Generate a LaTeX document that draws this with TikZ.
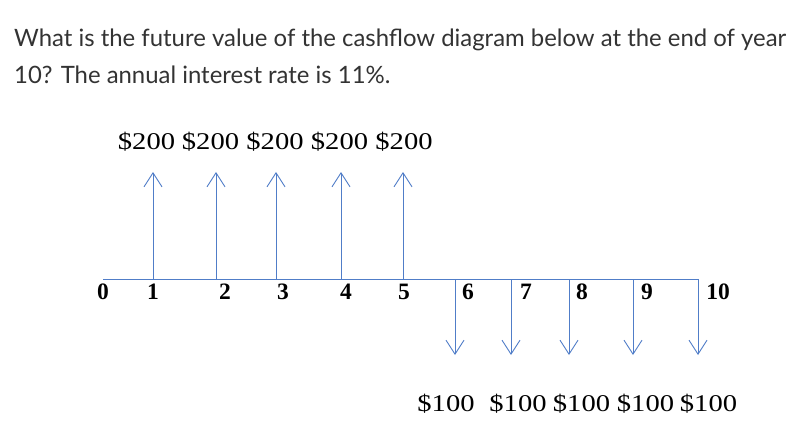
\documentclass[tikz,border=0pt]{standalone}
\usepackage{fontspec}
\setmainfont{Liberation Serif}
\newfontfamily\latofont{Lato}
\newfontfamily\cashfont[FakeStretch=1.19]{Liberation Serif}
\usepackage{xcolor}
\usetikzlibrary{arrows.meta}
\definecolor{flowblue}{RGB}{80,125,200}
\definecolor{textgray}{RGB}{51,51,51}

\begin{document}
\begin{tikzpicture}[x=1pt,y=-1pt]
		\tikzset{cashflow/.style={draw=flowblue, line width=0.9pt, -{Straight Barb[length=14pt,width=18pt,line width=0.9pt]}}};
		\tikzset{yearlabel/.style={anchor=base, inner sep=0pt, font=\fontsize{23.5}{23.5}\selectfont\bfseries}};
		\tikzset{amount/.style={anchor=base, inner sep=0pt, font=\fontsize{24}{24}\cashfont}};
		\tikzset{question/.style={anchor=base west, inner sep=0pt, text=textgray, font=\fontsize{23.9}{23.9}\latofont}};
		\useasboundingbox[fill=white] (0,0) rectangle (794,432);
		
		\node[question] (q1) at (14,46) {What is the future value of the cashflow diagram below at the end of year};
		\node[question] (q2) at (14,83) {10? The annual interest rate is 11\%.};
		
		\coordinate (t0) at (103,279);
		\coordinate (t1) at (153,279);
		\coordinate (t2) at (216,279);
		\coordinate (t3) at (276,279);
		\coordinate (t4) at (341,279);
		\coordinate (t5) at (403,279);
		\coordinate (t6) at (455,279);
		\coordinate (t7) at (511,279);
		\coordinate (t8) at (569,279);
		\coordinate (t9) at (633,279);
		\coordinate (t10) at (698,279);
		
		\coordinate (e1) at (153,172);
		\coordinate (e2) at (216,172);
		\coordinate (e3) at (276,172);
		\coordinate (e4) at (341,172);
		\coordinate (e5) at (403,172);
		\coordinate (e6) at (455,355);
		\coordinate (e7) at (511,355);
		\coordinate (e8) at (569,355);
		\coordinate (e9) at (633,355);
		\coordinate (e10) at (698,355);
		
		\draw[flowblue, line width=0.9pt] (t0) -- (t10);
		\draw[cashflow] (t1) -- (e1);
		\draw[cashflow] (t2) -- (e2);
		\draw[cashflow] (t3) -- (e3);
		\draw[cashflow] (t4) -- (e4);
		\draw[cashflow] (t5) -- (e5);
		\draw[cashflow] (t6) -- (e6);
		\draw[cashflow] (t7) -- (e7);
		\draw[cashflow] (t8) -- (e8);
		\draw[cashflow] (t9) -- (e9);
		\draw[cashflow] (t10) -- (e10);
		
		\node[yearlabel] (y0) at (103,299) {0};
		\node[yearlabel] (y1) at (153,299) {1};
		\node[yearlabel] (y2) at (225,299) {2};
		\node[yearlabel] (y3) at (283,299) {3};
		\node[yearlabel] (y4) at (346,299) {4};
		\node[yearlabel] (y5) at (404,299) {5};
		\node[yearlabel] (y6) at (468,299) {6};
		\node[yearlabel] (y7) at (526,299) {7};
		\node[yearlabel] (y8) at (582,299) {8};
		\node[yearlabel] (y9) at (647,299) {9};
		\node[yearlabel] (y10) at (718,299) {10};
		
		\node[amount] (p1) at (146.5,149) {\$200};
		\node[amount] (p2) at (210.5,149) {\$200};
		\node[amount] (p3) at (275,149) {\$200};
		\node[amount] (p4) at (339.5,149) {\$200};
		\node[amount] (p5) at (404,149) {\$200};
		
		\node[amount] (n6) at (446,411) {\$100};
		\node[amount] (n7) at (518,411) {\$100};
		\node[amount] (n8) at (581.5,411) {\$100};
		\node[amount] (n9) at (645.5,411) {\$100};
		\node[amount] (n10) at (708.5,411) {\$100};
	\end{tikzpicture}
\end{document}
